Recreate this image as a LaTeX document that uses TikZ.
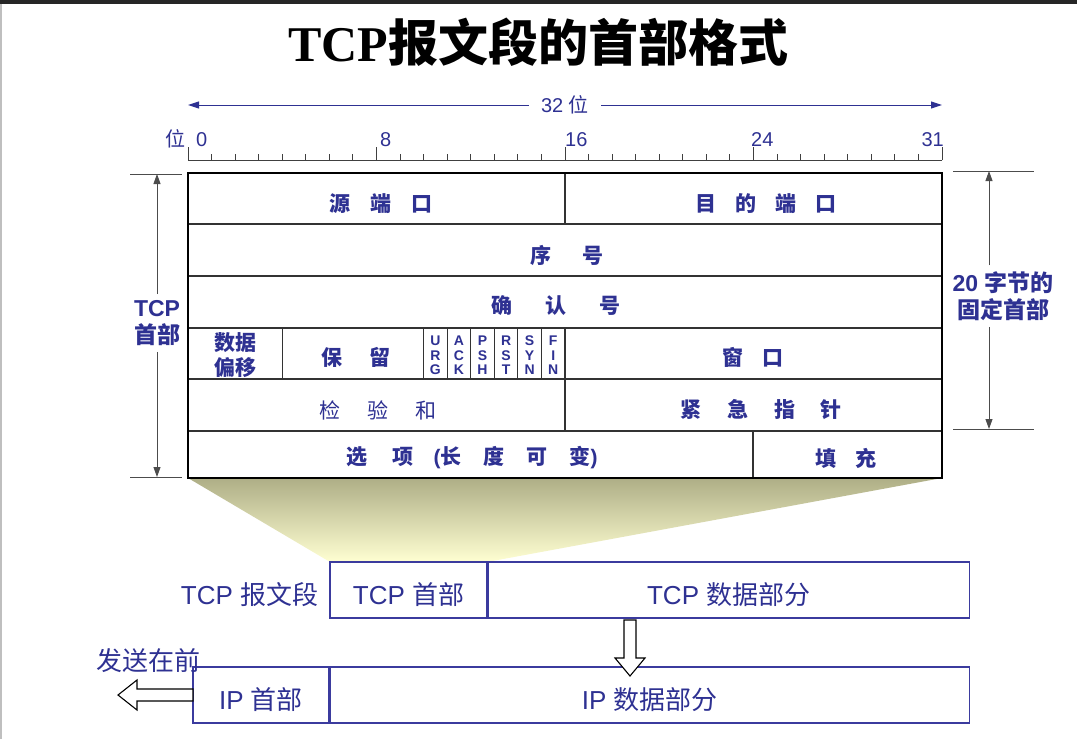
\documentclass[tikz,border=0pt]{standalone}
\usepackage{fontspec}
\setmainfont{Liberation Sans}
\newfontfamily\cjk{Noto Sans CJK SC}
\newfontfamily\serifen{Liberation Serif}
\usetikzlibrary{arrows.meta,positioning}
\definecolor{Ink}{HTML}{2E3192}
\definecolor{Frame}{HTML}{3B3B9E}
\definecolor{Olive}{HTML}{AEAE86}
\definecolor{Cream}{HTML}{FFFFD2}
\newcommand\zh[1]{{\cjk #1}}
\newcommand\fs[2]{\fontsize{#1}{#2}\selectfont}

\begin{document}
\begin{tikzpicture}[x=1pt, y=-1pt,
    field/.style={font=\cjk\bfseries\fs{21}{25}, text=Ink, inner sep=0pt, align=center},
    flag/.style={font=\bfseries\fs{14}{14.5}, text=Ink, inner sep=0pt, align=center},
    rulenum/.style={font=\fs{20}{22}, text=Ink, inner sep=0pt},
    cell/.style={draw=black!80, line width=1.1pt},
    dimline/.style={draw=black!70, line width=0.9pt},
    dimarr/.style={dimline, -{Triangle[length=10pt,width=7pt]}},
    bluearr/.style={draw=Ink, line width=1pt, -{Triangle[length=11pt,width=7pt]}},
    side/.style={font=\bfseries\fs{23}{27}, text=Ink, align=center, fill=white, inner sep=6pt},
    seg/.style={draw=Frame, line width=1.2pt, fill=white, minimum height=56pt,
                inner sep=0pt, text height=32pt, text depth=4pt, font=\fs{26}{28}, text=Ink},
    hollow/.style={draw=black, line width=1.1pt, fill=white}]
  \useasboundingbox (0,0) rectangle (1077,739);
  % screen edge
  \fill[black!85] (0,0) rectangle (1077,4);
  \draw[black!25, line width=1.5pt] (0.75,4) -- (0.75,739);

  \node[inner sep=0pt] (title) at (538,42)
    {\fs{50}{54}\bfseries{\serifen TCP}\zh{报文段的首部格式}};

  % 32-bit ruler
  \node[rulenum, fill=white, inner xsep=12pt] (width32) at (565,105) {32 \zh{位}};
  \coordinate (wleft) at (188,105);
  \coordinate (wright) at (942,105);
  \draw[bluearr] (width32) -- (wleft);
  \draw[bluearr] (width32) -- (wright);
  \draw[black!75, line width=1pt] (188,160) -- (942,160);
  \foreach \i in {0,...,32}
    \draw[black!75, line width=0.9pt] ({188+\i*23.5625},160) -- ++(0,-6);
  \foreach \i in {0,8,16,24,32}
    \draw[black!75, line width=1pt] ({188+\i*23.5625},160) -- ++(0,-13);
  \node[rulenum, anchor=base east] (bitword) at (186,146) {\zh{位}};
  \node[rulenum, anchor=base west] (bit0) at (196,146) {0};
  \node[rulenum, anchor=base west] (bit8) at (380,146) {8};
  \node[rulenum, anchor=base west] (bit16) at (565,146) {16};
  \node[rulenum, anchor=base west] (bit24) at (751,146) {24};
  \node[rulenum, anchor=base east] (bit31) at (944,146) {31};

  % zoom wedge
  \shade[top color=Olive, bottom color=Cream]
    (188,478) -- (942,478) -- (487,562) -- (330,562) -- cycle;

  % header table
  \fill[white] (188,173) rectangle (942,478);
  \foreach \y in {224,276,328,379,431}
    \draw[cell] (188,\y) -- (942,\y);
  \draw[cell] (565,173) -- (565,224);
  \draw[cell] (565,328) -- (565,431);
  \draw[cell] (753,431) -- (753,478);
  \foreach \b in {4,10,11,12,13,14,15}
    \draw[cell] ({188+\b*23.5625},328) -- ++(0,51);
  \draw[line width=2.6pt] (188,173) rectangle (942,478);

  \node[field] (srcport) at (381,204) {源\hspace{20pt}端\hspace{20pt}口};
  \node[field] (dstport) at (766,204) {目\hspace{19pt}的\hspace{19pt}端\hspace{19pt}口};
  \node[field] (seqno) at (567,255) {序\hspace{31pt}号};
  \node[field] (ackno) at (556,306) {确\hspace{33pt}认\hspace{33pt}号};
  \node[field] (offset) at (235,355) {数据\\偏移};
  \node[field] (reserved) at (356,357) {保\hspace{28pt}留};
  \foreach \n/\t [count=\k from 10] in
      {urg/{U\\R\\G}, ack/{A\\C\\K}, psh/{P\\S\\H}, rst/{R\\S\\T}, syn/{S\\Y\\N}, fin/{F\\I\\N}}
    \node[flag] (\n) at ({188+(\k+0.5)*23.5625},355.5) {\t};
  \node[field] (window) at (753,357) {窗\hspace{19pt}口};
  \node[field, font=\cjk\fs{21}{25}] (checksum) at (378,410) {检\hspace{27pt}验\hspace{27pt}和};
  \node[field] (urgent) at (761,410) {紧\hspace{26pt}急\hspace{26pt}指\hspace{26pt}针};
  \node[field] (options) at (472,458)
    {选\hspace{25pt}项\hspace{20pt}{\rmfamily\bfseries(}长\hspace{22pt}度\hspace{22pt}可\hspace{22pt}变{\rmfamily\bfseries)}};
  \node[field] (padding) at (846,458) {填\hspace{20pt}充};

  % TCP header height
  \draw[dimline] (130,174) -- (182,174);
  \draw[dimline] (130,477) -- (182,477);
  \coordinate (hdrtop) at (157,174);
  \coordinate (hdrbot) at (157,477);
  \node[side] (hdrlabel) at (157,323) {TCP\\\zh{首部}};
  \draw[dimarr] (hdrlabel) -- (hdrtop);
  \draw[dimarr] (hdrlabel) -- (hdrbot);

  % fixed 20 bytes
  \draw[dimline] (953,171) -- (1034,171);
  \draw[dimline] (953,429) -- (1034,429);
  \coordinate (fixtop) at (989,171);
  \coordinate (fixbot) at (989,429);
  \node[side] (fixlabel) at (1003,296) {20 \zh{字节的}\\\zh{固定首部}};
  \draw[dimarr] (fixlabel.north -| fixtop) -- (fixtop);
  \draw[dimarr] (fixlabel.south -| fixbot) -- (fixbot);

  % TCP segment
  \node[seg, minimum width=157pt] (tcphead) at (408.5,590) {TCP \zh{首部}};
  \node[seg, minimum width=481pt, anchor=west] (tcpdata) at (tcphead.east) {TCP \zh{数据部分}};
  \node[font=\fs{26}{28}, text=Ink, inner sep=0pt, left=11pt of tcphead, yshift=-5pt] (seglabel) {TCP \zh{报文段}};

  % IP datagram
  \node[seg, minimum width=136pt] (iphead) at (261,695) {IP \zh{首部}};
  \node[seg, minimum width=639pt, anchor=west] (ipdata) at (iphead.east) {IP \zh{数据部分}};
  \node[font=\fs{26}{28}, text=Ink, inner sep=0pt] (sendfirst) at (148,661) {\zh{发送在前}};

  % hollow arrows
  \draw[hollow] (624,620) -- (636,620) -- (636,658) -- (645,658) -- (630,676)
    -- (615,658) -- (624,658) -- cycle;
  \draw[hollow] (193,689) -- (137,689) -- (137,680) -- (118,695) -- (137,710)
    -- (137,701) -- (193,701) -- cycle;
\end{tikzpicture}
\end{document}
